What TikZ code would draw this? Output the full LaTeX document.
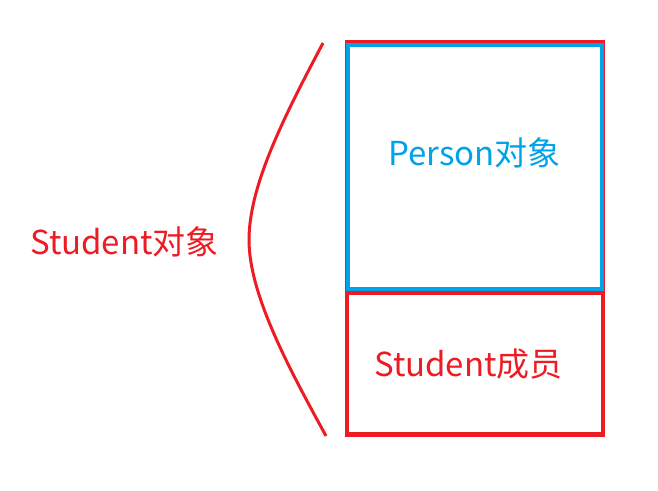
\documentclass[tikz,border=0pt]{standalone}
\usepackage{fontspec}
\setmainfont{Noto Sans CJK SC}
\usepackage{tikz}
\definecolor{paintred}{HTML}{ED1C24}
\definecolor{paintblue}{HTML}{00A2E8}
\begin{document}
\begin{tikzpicture}[x=1pt,y=-1pt,
box/.style={draw,rectangle,line width=4pt,inner sep=0pt},
label/.style={inner sep=0pt,font=\fontsize{33}{40}\selectfont}]
\useasboundingbox (0,0) rectangle (658,490);
\node[box,paintred,minimum width=256,minimum height=393] (student) at (475,238) {};
\node[box,paintblue,minimum width=254,minimum height=244] (person) at (475,167) {};
\node[box,paintred,minimum width=256,minimum height=141] (member) at (475,363.5) {};
\node[label,text=paintblue] (ptext) at (474.5,153) {Person对象};
\node[label,text=paintred] (mtext) at (468.5,364) {Student成员};
\node[label,text=paintred] (stext) at (124.5,242) {Student对象};
\coordinate (top) at (323,43);
\coordinate (bot) at (326,436);
\draw[paintred,line width=3pt] (top) .. controls (285,115) and (249,185) .. (249,240)
	.. controls (249,295) and (290,370) .. (bot);
\end{tikzpicture}
\end{document}
